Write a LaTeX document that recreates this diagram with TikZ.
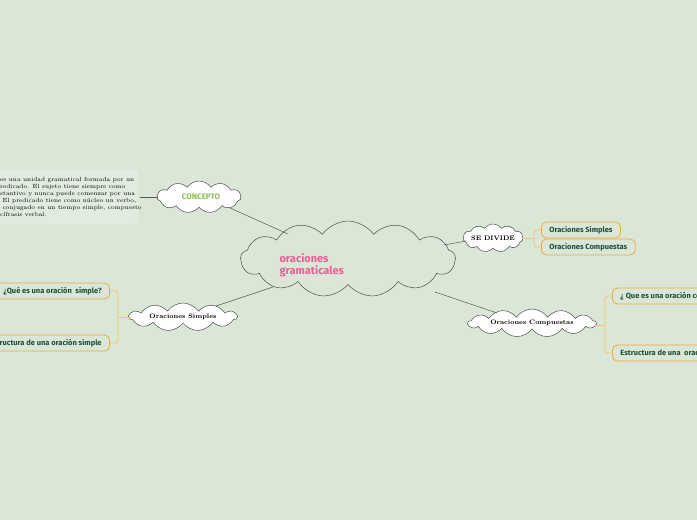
\documentclass[tikz,border=0pt]{standalone}
\usepackage{fontspec}
\setsansfont{Fira Sans}
\usetikzlibrary{shapes.symbols}
\definecolor{bg}{HTML}{DAE7D6}
\definecolor{orng}{HTML}{F2A93B}
\definecolor{dk}{HTML}{1E4D3C}
\definecolor{pnk}{HTML}{EC5E95}
\definecolor{grn}{HTML}{8CC152}
\begin{document}
\begin{tikzpicture}[x=1pt,y=-1pt,
  cl/.style={cloud,cloud puffs=11,cloud puff arc=110,draw=black!70,fill=white,line width=0.5pt,inner sep=0pt},
  ct/.style={font=\rmfamily\bfseries\fontsize{6.5}{7}\selectfont},
  bx/.style={draw=orng,line width=0.8pt,rounded corners=5pt,fill=bg,font=\sffamily\bfseries\fontsize{7.5}{8}\selectfont,text=dk,minimum height=16pt,inner xsep=8pt},
  ln/.style={draw=black!65,line width=0.5pt},
  ol/.style={draw=orng!70,line width=0.8pt}]
\clip (0,0) rectangle (697,520);
\fill[bg] (0,0) rectangle (697,520);
% central
\node[cl,cloud puffs=13,fill=bg,minimum width=215pt,minimum height=76pt] (c) at (348,259) {};
\node[font=\sffamily\bfseries\fontsize{11}{12}\selectfont,text=pnk,align=left,anchor=west] (ctx) at (276,265) {oraciones\\gramaticales};
% concepto
\node[cl,minimum width=84pt,minimum height=32pt] (con) at (199,197) {};
\node[font=\sffamily\bfseries\fontsize{8}{9}\selectfont,text=grn] (cont) at (201,197) {CONCEPTO};
\node[fill=bg!80!white,rounded corners=4pt,anchor=east,minimum width=160pt,minimum height=55pt] (tb) at (138,197) {};
\node[anchor=west,align=left,font=\rmfamily\fontsize{6}{7}\selectfont,inner sep=0pt] (tbt) at (0,197) {es una unidad gramatical formada por un\\redicado. El sujeto tiene siempre como\\stantivo y nunca puede comenzar por una\\\ El predicado tiene como núcleo un verbo,\\\ conjugado en un tiempo simple, compuesto\\cífrasis verbal.};
\draw[ln] (158,197) -- (140,197);
\draw[ln] (230,208) -- (288,234);
% simples
\node[cl,minimum width=108pt,minimum height=28pt] (os) at (183,317) {};
\node[ct] (ost) at (183,317) {Oraciones Simples};
\draw[ln] (273,287) -- (216,306);
\node[bx,anchor=east] (s1) at (110,291) {¿Qué es una oración \ simple?};
\node[bx,anchor=east] (s2) at (110,343) {Estructura de una oración simple};
\draw[ol] (131,317) -- (118,317);
\draw[ol,rounded corners=3pt] (s1.east) -- (118,291) -- (118,343) -- (s2.east);
% se divide
\node[cl,minimum width=60pt,minimum height=28pt] (sd) at (493,238) {};
\node[ct] (sdt) at (493,238) {SE DIVIDE};
\draw[ln] (444,245) -- (466,241);
\node[bx,anchor=west] (d1) at (541,230) {Oraciones Simples};
\node[bx,anchor=west] (d2) at (541,247) {Oraciones Compuestas};
\draw[ol] (522,238) -- (534,238);
\draw[ol,rounded corners=3pt] (d1.west) -- (534,230) -- (534,247) -- (d2.west);
% compuestas
\node[cl,cloud puffs=13,minimum width=128pt,minimum height=28pt] (oc) at (532,323) {};
\node[ct] (oct) at (532,323) {Oraciones Compuestas};
\draw[ln] (435,292) -- (497,313);
\node[bx,anchor=west] (c1) at (612,296) {¿ Que es una oración compuesta?};
\node[bx,anchor=west] (c2) at (612,353) {Estructura de una \ oración compuesta};
\draw[ol] (595,325) -- (605,325);
\draw[ol,rounded corners=3pt] (c1.west) -- (605,296) -- (605,353) -- (c2.west);
\end{tikzpicture}
\end{document}
